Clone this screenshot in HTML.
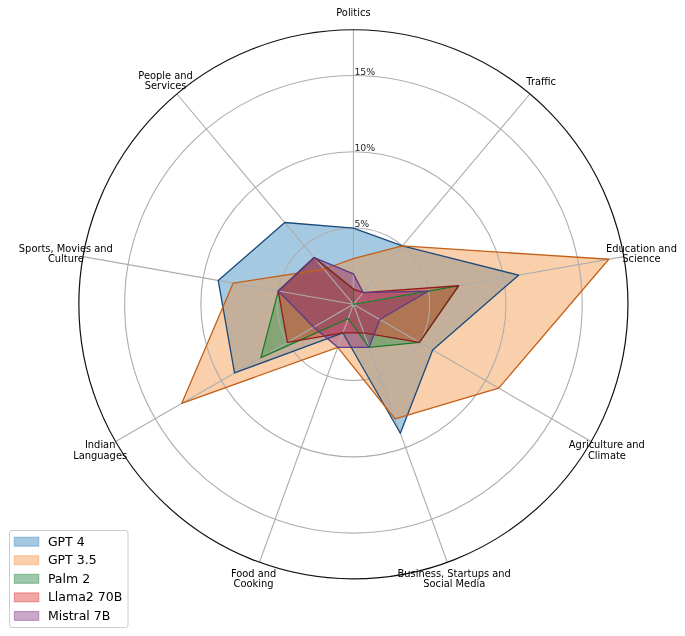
<!DOCTYPE html>
<html><head><meta charset="utf-8"><title>Radar</title>
<style>html,body{margin:0;padding:0;background:#fff}svg{display:block}</style></head>
<body>
<svg width="685" height="636" viewBox="0 0 685 636" font-family="'DejaVu Sans', 'Liberation Sans', sans-serif">
<rect width="685" height="636" fill="#fff"/>
<polygon points="353.40,228.04 402.42,245.88 518.63,275.16 432.66,350.06 400.35,433.30 342.97,332.97 234.51,372.94 218.21,280.46 284.77,222.51" fill="#1f77b4" fill-opacity="0.4" stroke="none"/>
<polygon points="353.40,258.54 402.42,245.88 608.76,259.27 498.70,388.19 395.13,418.97 337.75,347.30 181.68,403.44 233.23,283.11 323.99,269.25" fill="#f2892f" fill-opacity="0.4" stroke="none"/>
<polygon points="353.40,289.05 353.40,304.30 458.55,285.76 419.45,342.43 369.05,347.30 348.18,318.63 260.93,357.69 278.29,291.06 314.18,257.56" fill="#289641" fill-opacity="0.4" stroke="none"/>
<polygon points="353.40,289.05 363.20,292.62 458.55,285.76 419.45,342.43 363.83,332.97 342.97,332.97 287.35,342.43 278.29,291.06 314.18,257.56" fill="#f02d1e" fill-opacity="0.4" stroke="none"/>
<polygon points="353.40,273.79 363.20,292.62 428.51,291.06 379.82,319.55 369.05,347.30 337.75,347.30 313.77,327.18 278.29,291.06 314.18,257.56" fill="#882178" fill-opacity="0.4" stroke="none"/>
<g fill="none" stroke="#adadad" stroke-width="1.1"><line x1="353.4" y1="304.3" x2="353.40" y2="29.75"/><line x1="353.4" y1="304.3" x2="529.88" y2="93.98"/><line x1="353.4" y1="304.3" x2="623.78" y2="256.62"/><line x1="353.4" y1="304.3" x2="591.17" y2="441.58"/><line x1="353.4" y1="304.3" x2="447.30" y2="562.30"/><line x1="353.4" y1="304.3" x2="259.50" y2="562.30"/><line x1="353.4" y1="304.3" x2="115.63" y2="441.58"/><line x1="353.4" y1="304.3" x2="83.02" y2="256.62"/><line x1="353.4" y1="304.3" x2="176.92" y2="93.98"/><circle cx="353.4" cy="304.3" r="76.27"/><circle cx="353.4" cy="304.3" r="152.53"/><circle cx="353.4" cy="304.3" r="228.80"/></g>
<circle cx="353.4" cy="304.3" r="274.55" fill="none" stroke="#111" stroke-width="1.2"/>
<polygon points="353.40,228.04 402.42,245.88 518.63,275.16 432.66,350.06 400.35,433.30 342.97,332.97 234.51,372.94 218.21,280.46 284.77,222.51" fill="none" stroke="#1a4a7a" stroke-width="1.3" stroke-linejoin="round"/>
<polygon points="353.40,258.54 402.42,245.88 608.76,259.27 498.70,388.19 395.13,418.97 337.75,347.30 181.68,403.44 233.23,283.11 323.99,269.25" fill="none" stroke="#c2601a" stroke-width="1.3" stroke-linejoin="round"/>
<polygon points="353.40,289.05 353.40,304.30 458.55,285.76 419.45,342.43 369.05,347.30 348.18,318.63 260.93,357.69 278.29,291.06 314.18,257.56" fill="none" stroke="#1f7a2a" stroke-width="1.3" stroke-linejoin="round"/>
<polygon points="353.40,289.05 363.20,292.62 458.55,285.76 419.45,342.43 363.83,332.97 342.97,332.97 287.35,342.43 278.29,291.06 314.18,257.56" fill="none" stroke="#8f1d1d" stroke-width="1.3" stroke-linejoin="round"/>
<polygon points="353.40,273.79 363.20,292.62 428.51,291.06 379.82,319.55 369.05,347.30 337.75,347.30 313.77,327.18 278.29,291.06 314.18,257.56" fill="none" stroke="#5b3a8a" stroke-width="1.3" stroke-linejoin="round"/>
<text x="354.4" y="227.4" font-size="9.4" fill="#262626">5%</text>
<text x="354.4" y="151.2" font-size="9.4" fill="#262626">10%</text>
<text x="354.4" y="74.9" font-size="9.4" fill="#262626">15%</text>
<text x="353.40" y="15.8" font-size="9.9" text-anchor="middle" fill="#000">Politics</text>
<text x="541.17" y="84.5" font-size="9.9" text-anchor="middle" fill="#000">Traffic</text>
<text x="641.47" y="252.0" font-size="9.9" text-anchor="middle" fill="#000">Education and</text>
<text x="641.47" y="262.4" font-size="9.9" text-anchor="middle" fill="#000">Science</text>
<text x="606.89" y="448.4" font-size="9.9" text-anchor="middle" fill="#000">Agriculture and</text>
<text x="606.89" y="458.8" font-size="9.9" text-anchor="middle" fill="#000">Climate</text>
<text x="454.20" y="576.8" font-size="9.9" text-anchor="middle" fill="#000">Business, Startups and</text>
<text x="454.20" y="587.1" font-size="9.9" text-anchor="middle" fill="#000">Social Media</text>
<text x="253.60" y="576.6" font-size="9.9" text-anchor="middle" fill="#000">Food and</text>
<text x="253.60" y="587.0" font-size="9.9" text-anchor="middle" fill="#000">Cooking</text>
<text x="100.19" y="448.3" font-size="9.9" text-anchor="middle" fill="#000">Indian</text>
<text x="100.19" y="458.7" font-size="9.9" text-anchor="middle" fill="#000">Languages</text>
<text x="65.87" y="252.0" font-size="9.9" text-anchor="middle" fill="#000">Sports, Movies and</text>
<text x="65.87" y="262.4" font-size="9.9" text-anchor="middle" fill="#000">Culture</text>
<text x="165.57" y="79.0" font-size="9.9" text-anchor="middle" fill="#000">People and</text>
<text x="165.57" y="89.3" font-size="9.9" text-anchor="middle" fill="#000">Services</text>
<rect x="9.5" y="530.5" width="118.5" height="97" rx="2.5" fill="#fff" fill-opacity="0.8" stroke="#ccc" stroke-width="1"/>
<rect x="14.3" y="537.20" width="24.5" height="9" fill="#1f77b4" fill-opacity="0.4" stroke="#1f77b4" stroke-opacity="0.4" stroke-width="1"/>
<text x="47.9" y="545.70" font-size="12.5" fill="#000">GPT 4</text>
<rect x="14.3" y="555.75" width="24.5" height="9" fill="#f2892f" fill-opacity="0.4" stroke="#f2892f" stroke-opacity="0.4" stroke-width="1"/>
<text x="47.9" y="564.25" font-size="12.5" fill="#000">GPT 3.5</text>
<rect x="14.3" y="574.30" width="24.5" height="9" fill="#0c752a" fill-opacity="0.4" stroke="#0c752a" stroke-opacity="0.4" stroke-width="1"/>
<text x="47.9" y="582.80" font-size="12.5" fill="#000">Palm 2</text>
<rect x="14.3" y="592.85" width="24.5" height="9" fill="#d9231e" fill-opacity="0.4" stroke="#d9231e" stroke-opacity="0.4" stroke-width="1"/>
<text x="47.9" y="601.35" font-size="12.5" fill="#000">Llama2 70B</text>
<rect x="14.3" y="611.40" width="24.5" height="9" fill="#782578" fill-opacity="0.4" stroke="#782578" stroke-opacity="0.4" stroke-width="1"/>
<text x="47.9" y="619.90" font-size="12.5" fill="#000">Mistral 7B</text>
</svg>
</body></html>
